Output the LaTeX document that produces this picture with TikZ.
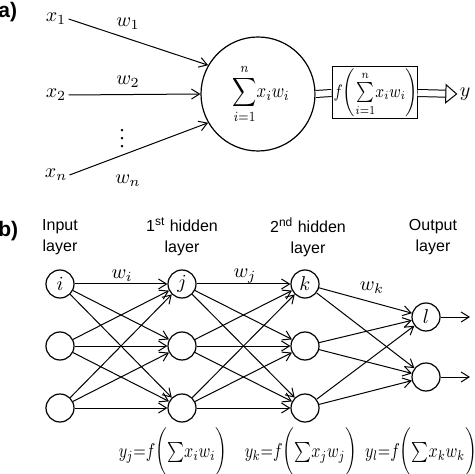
\documentclass[tikz,border=0pt]{standalone}
\usepackage{graphicx}
\usepackage{fontspec}
\setmainfont{Liberation Serif}
\setsansfont{Liberation Sans}
\usetikzlibrary{arrows.meta}
\newcommand{\narrow}[1]{\scalebox{0.84}[1]{#1}}
\newcommand{\narrowb}[1]{\scalebox{0.8}[1]{#1}}
\begin{document}
\begin{tikzpicture}[x=0.5pt,y=-0.5pt,
  neuron/.style={circle,draw,line width=0.6pt,minimum size=14pt,inner sep=0pt},
  conn/.style={line width=0.5pt,-{Straight Barb[length=4pt,width=5pt]}},
  lbl/.style={font=\sffamily\fontsize{8}{10.5}\selectfont,align=center},
  tag/.style={font=\sffamily\bfseries\fontsize{10.5}{12}\selectfont,inner sep=0pt},
  inp/.style={inner sep=1pt},
  fml/.style={inner sep=0pt,font=\normalsize},
  dbl/.style={double,double distance=3pt,line width=0.5pt}
]
\useasboundingbox (0,0) rectangle (474,474);
% ---------- a) ----------
\node[tag,anchor=west] (ta) at (-2,12) {a)};
\node[inp] (x1) at (56,19) {$x_{1}$};
\node[inp] (x2) at (56,95) {$x_{2}$};
\node[inp] (xn) at (56,175) {$x_{n}$};
\node[circle,draw,line width=0.6pt,minimum size=57pt,inner sep=0pt] (c) at (258,94) {};
\node[inner sep=0pt] (cs) at (261,94) {\narrow{$\displaystyle\sum_{i=1}^{n}\!x_{i}w_{i}$}};
\node[draw,line width=0.5pt,minimum width=42.5pt,minimum height=26pt,inner sep=0pt] (box) at (374.5,93) {};
\node[inner sep=0pt,font=\small] (bf) at (376,93) {\narrow{$f\!\left(\sum\limits_{i=1}^{n}\!x_{i}w_{i}\right)$}};
\node[inp] (y) at (465,94) {$y$};
\draw[conn] (x1.east) -- (c.150);
\draw[conn] (x2.east) -- (c.180);
\draw[conn] (xn.east) -- (c.210);
\node (w1) at (128,24) {$w_{1}$};
\node (w2) at (128,82) {$w_{2}$};
\node (wn) at (128,181) {$w_{n}$};
\node[inner sep=0pt] (dots) at (122,133) {$\vdots$};
\draw[dbl] (c.east) -- (box.west);
\draw[dbl,-{Triangle[open,length=6pt,width=10pt]}] (box.east) -- (y.west);
% ---------- b) ----------
\node[tag,anchor=west] (tb) at (-2,231) {b)};
\node[lbl] (L1) at (60,237) {Input\\layer};
\node[lbl] (L2) at (182,237) {1\textsuperscript{st} hidden\\layer};
\node[lbl] (L3) at (308,237) {2\textsuperscript{nd} hidden\\layer};
\node[lbl] (L4) at (433,237) {Output\\layer};
\foreach \n/\y/\t in {1/284/i,2/346/,3/408/} {
  \node[neuron] (a\n) at (60,\y) {$\t$};
}
\foreach \n/\y/\t in {1/284/j,2/346/,3/408/} {
  \node[neuron] (b\n) at (182,\y) {$\t$};
}
\foreach \n/\y/\t in {1/284/k,2/346/,3/408/} {
  \node[neuron] (h\n) at (305,\y) {$\t$};
}
\node[neuron] (o1) at (426,317) {$l$};
\node[neuron] (o2) at (426,377) {};
\coordinate (e1) at (470,317);
\coordinate (e2) at (470,377);
\foreach \s in {1,2,3} {
  \foreach \t in {1,2,3} {
    \draw[conn] (a\s) -- (b\t);
    \draw[conn] (b\s) -- (h\t);
  }
  \foreach \t in {1,2} {
    \draw[conn] (h\s) -- (o\t);
  }
}
\draw[conn] (o1) -- (e1);
\draw[conn] (o2) -- (e2);
\node (wi) at (122,276) {$w_{i}$};
\node (wj) at (245,276) {$w_{j}$};
\node (wk) at (372,288) {$w_{k}$};
\node[fml] (f1) at (173,452) {\narrowb{$y_{j}{=}f\biggl(\sum\! x_{i}w_{i}\biggr)$}};
\node[fml] (f2) at (301,452) {\narrowb{$y_{k}{=}f\biggl(\sum\! x_{j}w_{j}\biggr)$}};
\node[fml] (f3) at (421,452) {\narrowb{$y_{l}{=}f\biggl(\sum\! x_{k}w_{k}\biggr)$}};
\end{tikzpicture}
\end{document}
